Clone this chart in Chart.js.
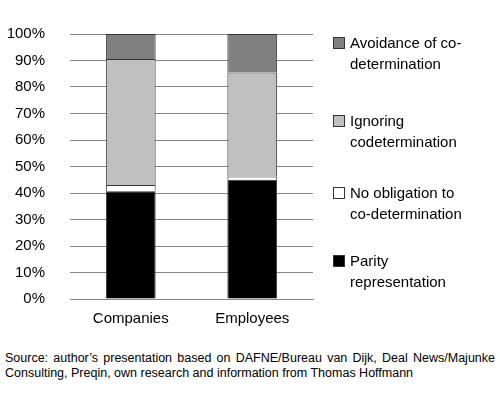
<!DOCTYPE html>
<html><head><script src="https://cdn.jsdelivr.net/npm/chart.js@4"></script>
<style>
body{margin:0;width:500px;height:407px;background:#fff;font-family:"Liberation Sans",Arial,sans-serif;position:relative;overflow:hidden}
#wrap{position:absolute;left:0;top:0;width:500px;height:333px}
#legend{position:absolute;left:333px;top:0;width:167px;font-size:15px;color:#000}
.li{position:absolute;left:0;display:flex;align-items:flex-start}
.sw{width:10px;height:10px;border:1px solid #333;margin-top:5px;margin-right:5px;flex:none}
#src{position:absolute;left:5px;top:351px;width:490px;font-size:12.5px;line-height:15px;color:#000;text-align:justify}
</style></head><body>
<div id="wrap"><canvas id="c"></canvas></div>
<div id="legend"></div>
<div id="src">Source: author’s presentation based on DAFNE/Bureau van Dijk, Deal News/Majunke Consulting, Preqin, own research and information from Thomas Hoffmann</div>
<script>
const categories=["Companies","Employees"];
const parity=[40.7,45.0];
const noObligation=[2.3,1.2];
const ignoring=[47.6,39.3];
const avoidance=[9.4,14.5];
const seriesNames=[["Parity","representation"],["No obligation to","co-determination"],["Ignoring","codetermination"],["Avoidance of co-","determination"]];
const colors=["#000000","#ffffff","#c0c0c0","#808080"];
const yTicks=[0,10,20,30,40,50,60,70,80,90,100];
const vals=[parity,noObligation,ignoring,avoidance];
new Chart(document.getElementById('c'),{type:'bar',
data:{labels:categories,datasets:vals.map((v,i)=>({label:seriesNames[i].join(' '),data:v,backgroundColor:colors[i],borderColor:'#333',borderWidth:1,barPercentage:0.41,categoryPercentage:1}))},
options:{responsive:true,maintainAspectRatio:false,animation:false,
layout:{padding:{left:4,right:187,top:14,bottom:0}},
plugins:{legend:{display:false},tooltip:{enabled:false}},
scales:{x:{stacked:true,grid:{display:false,drawTicks:true},border:{color:'#888'},ticks:{color:'#000',font:{family:'Liberation Sans',size:15}}},
y:{stacked:true,min:0,max:100,afterBuildTicks:a=>{a.ticks=yTicks.map(v=>({value:v}))},afterFit:s=>{s.width=66},grid:{color:'#888',drawTicks:false},border:{display:false},
ticks:{color:'#000',padding:25,font:{family:'Liberation Sans',size:15},callback:v=>v+'%'}}}}});
const lg=document.getElementById('legend');
const tops=[250,182,110,32];
[3,2,1,0].forEach(i=>{const d=document.createElement('div');d.className='li';d.style.top=tops[i]+'px';
d.innerHTML='<div class="sw" style="background:'+colors[i]+'"></div><div>'+seriesNames[i].join('<br>')+'</div>';d.style.lineHeight='21px';lg.appendChild(d);});
</script></body></html>
